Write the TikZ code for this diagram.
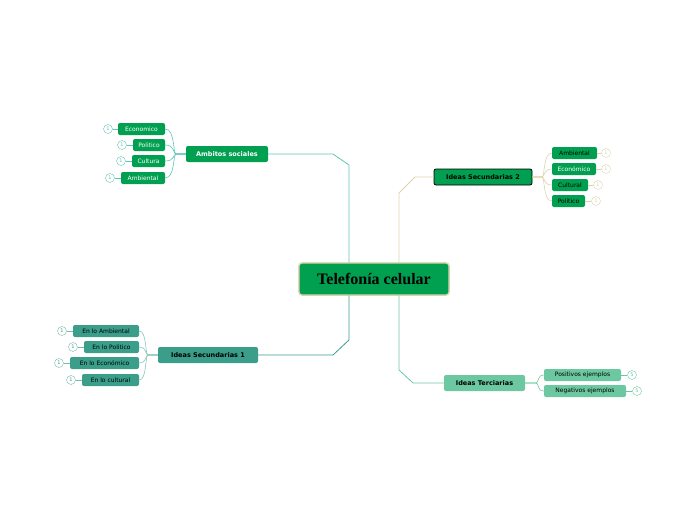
\documentclass[tikz,border=0pt]{standalone}
\usepackage{fontspec}
\setmainfont{DejaVu Sans}
\newfontfamily\titlefont{Liberation Serif}
\begin{document}
\begin{tikzpicture}[x=1pt,y=-1pt,
  box/.style={rounded corners=2pt,inner sep=0pt,minimum height=12pt,font=\fontsize{6}{7}\selectfont,text=white},
  mid/.style={rounded corners=2pt,inner sep=0pt,minimum height=16pt,font=\fontsize{6.5}{8}\selectfont\bfseries},
  cnt/.style={circle,draw,inner sep=0pt,minimum size=9pt,font=\fontsize{5}{5}\selectfont,fill=white},
  lk/.style={line width=0.8pt}]
\definecolor{g1}{HTML}{00A050}\definecolor{tl}{HTML}{60C4B8}\definecolor{bg}{HTML}{DCD3AE}
\definecolor{s1}{HTML}{3A9E8A}\definecolor{t3}{HTML}{6CC8A0}
\useasboundingbox (0,0) rectangle (697,520);
\node[rounded corners=3pt,fill=g1,draw=bg,line width=1.2pt,minimum width=150pt,minimum height=32pt,font=\titlefont\fontsize{16}{18}\selectfont\bfseries] (c) at (374,279) {Telefonía celular};
% Ambitos
\node[mid,fill=g1,text=white,minimum width=82pt] (a) at (227,154) {Ambitos sociales};
\draw[lk,tl] (349,263) -- (349,165) -- (333,154) -- (a.east);
\node[box,fill=g1,minimum width=47pt] (a1) at (141.5,129) {Economico};
\node[box,fill=g1,minimum width=32pt] (a2) at (149,145) {Politico};
\node[box,fill=g1,minimum width=33pt] (a3) at (148.5,161) {Cultura};
\node[box,fill=g1,minimum width=44pt] (a4) at (143,178) {Ambiental};
\foreach \n/\cx in {a1/108,a2/122,a3/121,a4/110}{
  \draw[tl,line width=0.6pt] (a.west) -- (176,154) .. controls (173,154) and (175,0 |- \n.east) .. (\n.east);
  \node[cnt,draw=tl,text=tl] (k\n) at (\cx,0 |- \n.center) {1};
  \draw[tl,line width=0.6pt] (k\n) -- (\n);}
% IS2
\node[mid,fill=g1,draw=black,line width=0.8pt,minimum width=98pt] (b) at (483,177) {Ideas Secundarias 2};
\draw[lk,bg] (399,263) -- (399,193) -- (415,177) -- (b.west);
\node[box,fill=g1,minimum width=45pt,text=black] (b1) at (574.5,153) {Ambiental};
\node[box,fill=g1,minimum width=44pt] (b2) at (574,169) {Económico};
\node[box,fill=g1,minimum width=36pt,text=black] (b3) at (570,185) {Cultural};
\node[box,fill=g1,minimum width=33pt,text=black] (b4) at (568.5,201) {Político};
\foreach \n/\cx in {b1/606,b2/606,b3/598,b4/596}{
  \draw[bg,line width=0.6pt] (b.east) -- (542,177) .. controls (545,177) and (543,0 |- \n.west) .. (\n.west);
  \node[cnt,draw=bg,text=bg] (k\n) at (\cx,0 |- \n.center) {1};
  \draw[bg,line width=0.6pt] (k\n) -- (\n);}
% IS1
\node[mid,fill=s1,minimum width=100pt] (d) at (208,355) {Ideas Secundarias 1};
\draw[lk,s1] (349,295) -- (349,340) -- (333,355) -- (d.east);
\node[box,fill=s1,minimum width=66pt,text=black] (d1) at (106,331) {En lo Ambiental};
\node[box,fill=s1,minimum width=55pt,text=black] (d2) at (111.5,347) {En lo Politico};
\node[box,fill=s1,minimum width=69pt,text=black] (d3) at (104.5,363) {En lo Económico};
\node[box,fill=s1,minimum width=57pt,text=black] (d4) at (110.5,380) {En lo cultural};
\foreach \n/\cx in {d1/62,d2/73,d3/59,d4/71}{
  \draw[s1!60,line width=0.6pt] (d.west) -- (148,355) .. controls (145,355) and (147,0 |- \n.east) .. (\n.east);
  \node[cnt,draw=s1!70,text=s1] (k\n) at (\cx,0 |- \n.center) {1};
  \draw[s1!70,line width=0.6pt] (k\n) -- (\n);}
% IT
\node[mid,fill=t3,minimum width=81pt] (e) at (484.5,383) {Ideas Terciarias};
\draw[lk,t3] (399,295) -- (399,370) -- (413,383) -- (e.west);
\node[box,fill=t3,minimum width=77pt,text=black] (e1) at (582.5,375) {Positivos ejemplos};
\node[box,fill=t3,minimum width=82pt,text=black] (e2) at (585,391) {Negativos ejemplos};
\foreach \n/\cx in {e1/632,e2/637}{
  \draw[t3,line width=0.6pt] (e.east) -- (536,383) .. controls (539,383) and (537,0 |- \n.west) .. (\n.west);
  \node[cnt,draw=t3,text=t3] (k\n) at (\cx,0 |- \n.center) {5};
  \draw[t3,line width=0.6pt] (k\n) -- (\n);}
\node[rounded corners=3pt,fill=g1,draw=bg,line width=1.2pt,minimum width=150pt,minimum height=32pt,font=\titlefont\fontsize{16}{18}\selectfont\bfseries] at (c) {Telefonía celular};
\end{tikzpicture}
\end{document}
